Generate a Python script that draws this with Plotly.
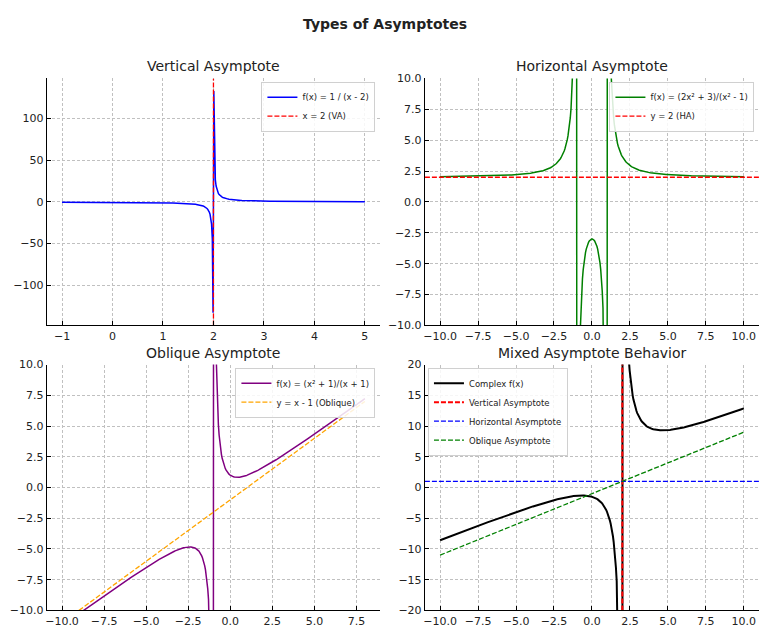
import numpy as np
import plotly.graph_objects as go

# ---- data (curves defined by the formulas shown in the legends) ----
x_vert = np.linspace(-1, 5, 400)
y_vert = 1 / (x_vert - 2)
va_x = 2

x_horiz = np.linspace(-10, 10, 400)
y_horiz = (2 * x_horiz**2 + 3) / (x_horiz**2 - 1)
ha_y = 2

x_obl = np.linspace(-10, 8, 400)
y_obl = (x_obl**2 + 1) / (x_obl + 1)
y_obl_asym = x_obl - 1

x_mix = np.linspace(-10, 10, 400)
y_mix = (x_mix**2 + 3) / (x_mix - 2)
mix_va = 2
mix_ha = 1
y_mix_obl = x_mix - 1

# axis ranges
r_vert_x = [-1.3, 5.3]
r_vert_y = [-148, 148]
r_horiz_x = [-11, 11]
r_horiz_y = [-10, 10]
r_obl_x = [-10.9, 8.9]
r_obl_y = [-10, 10]
r_mix_x = [-11, 11]
r_mix_y = [-20, 20]

FONT = "DejaVu Sans"
fig = go.Figure()

dom_x = {1: [45/768, 379/768], 2: [424/768, 759/768]}
dom_y_top = [1 - 326/640, 1 - 74/640]
dom_y_bot = [1 - 617/640, 1 - 366/640]

def add(x, y, color, width, dash, name, ax, legend):
    fig.add_trace(go.Scatter(x=x, y=y, mode="lines", name=name,
                             line=dict(color=color, width=width, dash=dash),
                             xaxis="x" + ax, yaxis="y" + ax, legend=legend))

DASH = "5px,2px"
# panel 1
add(x_vert, y_vert, "blue", 1.5, "solid", "f(x) = 1 / (x - 2)", "", "legend")
add([va_x, va_x], r_vert_y, "red", 1.3, DASH, "x = 2 (VA)", "", "legend")
# panel 2
add(x_horiz, y_horiz, "green", 1.5, "solid", "f(x) = (2x² + 3)/(x² - 1)", "2", "legend2")
add(r_horiz_x, [ha_y, ha_y], "red", 1.3, DASH, "y = 2 (HA)", "2", "legend2")
# panel 3
add(x_obl, y_obl, "purple", 1.5, "solid", "f(x) = (x² + 1)/(x + 1)", "3", "legend3")
add(x_obl, y_obl_asym, "orange", 1.3, DASH, "y = x - 1 (Oblique)", "3", "legend3")
# panel 4
add(x_mix, y_mix, "black", 2, "solid", "Complex f(x)", "4", "legend4")
add([mix_va, mix_va], r_mix_y, "red", 2, DASH, "Vertical Asymptote", "4", "legend4")
add(r_mix_x, [mix_ha, mix_ha], "#0000ff", 1.3, DASH, "Horizontal Asymptote", "4", "legend4")
add(x_mix, y_mix_obl, "green", 1.3, DASH, "Oblique Asymptote", "4", "legend4")

def axis(domain, rng, anchor, **kw):
    d = dict(domain=domain, range=rng, anchor=anchor, showline=True, linecolor="black",
             linewidth=1.2, mirror=False, ticks="inside", ticklen=4, tickcolor="black",
             showgrid=True, gridcolor="#c0c0c0", griddash="3px,2px", gridwidth=0.8,
             zeroline=False, tickfont=dict(family=FONT, size=11, color="#222"))
    d.update(kw)
    return d

fig.update_layout(
    xaxis=axis(dom_x[1], r_vert_x, "y", tickmode="array", tickvals=[-1, 0, 1, 2, 3, 4, 5]),
    yaxis=axis(dom_y_top, r_vert_y, "x", tickmode="array", tickvals=[-100, -50, 0, 50, 100]),
    xaxis2=axis(dom_x[2], r_horiz_x, "y2", dtick=2.5, tick0=0, tickformat=".1f"),
    yaxis2=axis(dom_y_top, r_horiz_y, "x2", dtick=2.5, tick0=0, tickformat=".1f"),
    xaxis3=axis(dom_x[1], r_obl_x, "y3", dtick=2.5, tick0=0, tickformat=".1f"),
    yaxis3=axis(dom_y_bot, r_obl_y, "x3", dtick=2.5, tick0=0, tickformat=".1f"),
    xaxis4=axis(dom_x[2], r_mix_x, "y4", dtick=2.5, tick0=0, tickformat=".1f"),
    yaxis4=axis(dom_y_bot, r_mix_y, "x4", dtick=5, tick0=0),
)

leg_common = dict(bgcolor="rgba(255,255,255,0.85)", bordercolor="#d0d0d0", borderwidth=1,
                  font=dict(family=FONT, size=8.5, color="#222"), tracegroupgap=0,
                  itemwidth=30)
fig.update_layout(
    legend=dict(x=dom_x[1][1] - 0.006, y=dom_y_top[1] - 0.005, xanchor="right", yanchor="top", **leg_common),
    legend2=dict(x=dom_x[2][1] - 0.006, y=dom_y_top[1] - 0.005, xanchor="right", yanchor="top", **leg_common),
    legend3=dict(x=dom_x[1][1] - 0.006, y=dom_y_bot[1] - 0.005, xanchor="right", yanchor="top", **leg_common),
    legend4=dict(x=dom_x[2][0] + 0.004, y=dom_y_bot[1] - 0.005, xanchor="left", yanchor="top", **leg_common),
)

def title(text, xc, ypx, size=14, bold=False):
    fig.add_annotation(text=("<b>%s</b>" % text) if bold else text, x=xc, y=1 - ypx/640,
                       xref="paper", yref="paper", showarrow=False, xanchor="center", yanchor="middle",
                       font=dict(family=FONT, size=size, color="#222"))

title("Types of Asymptotes", 0.5, 18, size=14, bold=True)
title("Vertical Asymptote", sum(dom_x[1])/2, 61)
title("Horizontal Asymptote", sum(dom_x[2])/2, 61)
title("Oblique Asymptote", sum(dom_x[1])/2, 354)
title("Mixed Asymptote Behavior", sum(dom_x[2])/2, 354)

fig.update_layout(width=768, height=640, margin=dict(l=0, r=0, t=0, b=0),
                  paper_bgcolor="white", plot_bgcolor="white", showlegend=True,
                  font=dict(family=FONT))
fig.write_html("out.html")
